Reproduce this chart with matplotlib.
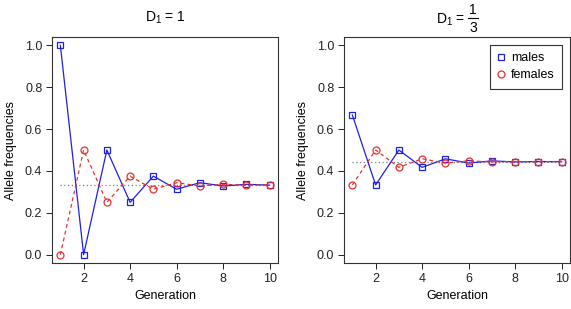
import matplotlib
matplotlib.use("Agg")
import matplotlib.pyplot as plt
import numpy as np

plt.rcParams['font.family'] = ['Liberation Sans', 'DejaVu Sans']
plt.rcParams['mathtext.fontset'] = 'custom'
plt.rcParams['mathtext.rm'] = 'Liberation Sans'
plt.rcParams['mathtext.it'] = 'Liberation Sans:italic'
plt.rcParams['mathtext.default'] = 'regular'

generation = [1, 2, 3, 4, 5, 6, 7, 8, 9, 10]

# D1 = 1
males_a = [1.0, 0.0, 0.5, 0.25, 0.375, 0.3125, 0.34375, 0.328, 0.336, 0.332]
females_a = [0.0, 0.5, 0.25, 0.375, 0.3125, 0.34375, 0.328, 0.336, 0.332, 0.334]
equil_a = 1 / 3

# D1 = 1/3
males_b = [0.667, 0.333, 0.5, 0.417, 0.458, 0.4375, 0.448, 0.443, 0.445, 0.444]
females_b = [0.333, 0.5, 0.417, 0.458, 0.4375, 0.448, 0.443, 0.445, 0.444, 0.445]
equil_b = 4 / 9

yticks = [0.0, 0.2, 0.4, 0.6, 0.8, 1.0]
xticks = [2, 4, 6, 8, 10]

fig = plt.figure(figsize=(5.71, 3.09), dpi=100)
W, H = 571, 309
boxes = [(52, 37, 278, 263), (344, 37, 570, 263)]
fs = 9

panels = [(males_a, females_a, equil_a), (males_b, females_b, equil_b)]
for k, ((m, f, eq), (x0, y0, x1, y1)) in enumerate(zip(panels, boxes)):
    ax = fig.add_axes([x0 / W, 1 - y1 / H, (x1 - x0) / W, (y1 - y0) / H])
    ax.plot([generation[0], generation[-1]], [eq, eq], color='#808080',
            linestyle=(0, (1, 2)), linewidth=0.9)
    ax.plot(generation, m, color='#2020e0', linestyle='-', linewidth=0.9,
            marker='s', markersize=4.8, markerfacecolor='none',
            markeredgecolor='#2020e0', markeredgewidth=0.9, label='males')
    ax.plot(generation, f, color='#e83030', linestyle=(0, (3, 2.5)), linewidth=0.9,
            marker='o', markersize=5, markerfacecolor='none',
            markeredgecolor='#e83030', markeredgewidth=0.9, label='females')
    ax.set_xlim(0.64, 10.36)
    ax.set_ylim(-0.04, 1.04)
    ax.set_xticks(xticks)
    ax.set_yticks(yticks)
    ax.set_yticklabels([f'{v:.1f}' for v in yticks])
    ax.tick_params(direction='out', length=4, width=0.7, labelsize=fs,
                   colors='#222222', pad=3)
    for s in ax.spines.values():
        s.set_linewidth(0.8)
        s.set_color('#333333')
    ax.set_xlabel('Generation', fontsize=fs, labelpad=4)
    ax.set_ylabel('Allele frequencies', fontsize=fs, labelpad=6)
    if k == 1:
        leg = ax.legend(loc='upper right', fontsize=fs, handlelength=0.7,
                        handletextpad=0.4, borderpad=0.6, labelspacing=0.4,
                        borderaxespad=0, fancybox=False, framealpha=1,
                        edgecolor='#333333', bbox_to_anchor=(0.965, 0.965))
        leg.get_frame().set_linewidth(0.8)
        for h in leg.legend_handles:
            h.set_linestyle('None')

# titles
fig.text(165 / W, 1 - 18 / H, 'D$_1$ = 1', fontsize=10, ha='center', va='center')
fig.text(465 / W, 1 - 20 / H, 'D$_1$ =', fontsize=10, ha='right', va='center')
fig.text(473 / W, 1 - 10 / H, '1', fontsize=10, ha='center', va='center')
fig.text(473 / W, 1 - 28 / H, '3', fontsize=10, ha='center', va='center')
fig.add_artist(plt.Line2D([468 / W, 478 / W], [1 - 18 / H, 1 - 18 / H],
                          color='black', linewidth=0.8))

fig.savefig('out.png', dpi=100)
